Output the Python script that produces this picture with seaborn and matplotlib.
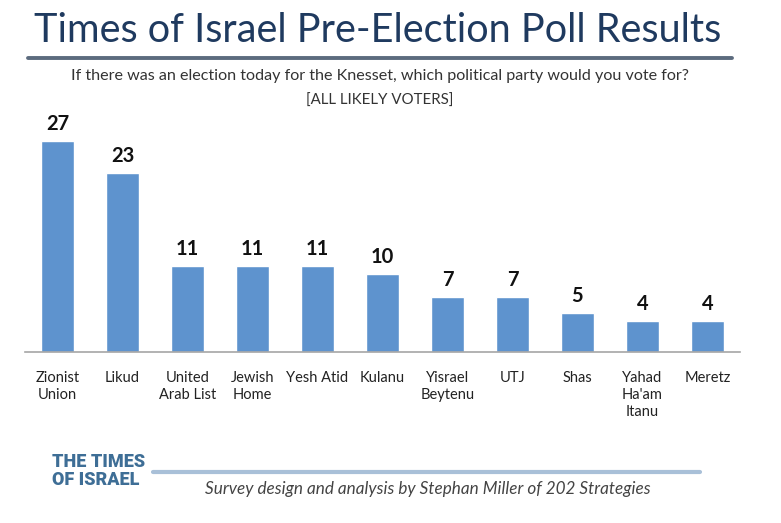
import matplotlib
matplotlib.use("Agg")
import matplotlib.pyplot as plt
import seaborn as sns
import pandas as pd
from matplotlib.lines import Line2D

parties = ["Zionist\nUnion", "Likud", "United\nArab List", "Jewish\nHome", "Yesh Atid",
           "Kulanu", "Yisrael\nBeytenu", "UTJ", "Shas", "Yahad\nHa'am\nItanu", "Meretz"]
seats = [27, 23, 11, 11, 11, 10, 7, 7, 5, 4, 4]

title = "Times of Israel Pre-Election Poll Results"
subtitle = "If there was an election today for the Knesset, which political party would you vote for?"
subtitle2 = "[ALL LIKELY VOTERS]"
footer = "Survey design and analysis by Stephan Miller of 202 Strategies"
logo = "THE TIMES\nOF ISRAEL"

sns.set_style("white")
plt.rcParams['font.family'] = ['Lato', 'DejaVu Sans']

df = pd.DataFrame({"party": parties, "seats": seats})

W, H = 781, 523
fig = plt.figure(figsize=(W / 100, H / 100), dpi=100)
ax = fig.add_axes([25 / W, 1 - 352 / H, 715 / W, 234 / H])

sns.barplot(data=df, x="party", y="seats", color="#5E93CE", saturation=1,
            width=0.5, ax=ax)
ax.set_ylim(0, 30)
ax.set_xlim(-0.5, len(parties) - 0.5)
ax.set_xlabel("")
ax.set_ylabel("")
ax.set_yticks([])
for s in ["left", "right", "top"]:
    ax.spines[s].set_visible(False)
ax.spines["bottom"].set_color("#A6A6A6")
ax.spines["bottom"].set_linewidth(1.2)

ax.tick_params(axis="x", which="major", length=0, pad=14, labelsize=10.5, labelcolor="#222222")
ax.set_xticks([i + 0.5 for i in range(len(parties) - 1)], minor=True)
ax.tick_params(axis="x", which="minor", length=5, color="#A6A6A6", width=1)
for lbl in ax.get_xticklabels():
    lbl.set_verticalalignment("top")
    lbl.set_linespacing(1.25)

for cont in ax.containers:
    ax.bar_label(cont, labels=[str(v) for v in seats], padding=5,
                 fontsize=14.5, fontweight="bold", color="#111111")

fig.text(378 / W, 1 - 30 / H, title, ha="center", va="center",
         fontsize=28.5, color="#1F3A5F")
fig.add_artist(Line2D([28 / W, 732 / W], [1 - 58 / H] * 2, color="#5C6B7E", lw=2.8,
                      transform=fig.transFigure))
fig.text(380 / W, 1 - 76 / H, subtitle, ha="center", va="center",
         fontsize=11.6, color="#333333")
fig.text(380 / W, 1 - 101 / H, subtitle2, ha="center", va="center",
         fontsize=10.8, color="#333333")

fig.text(52 / W, 1 - 471 / H, logo, ha="left", va="center", fontsize=13,
         fontweight="black", color="#3E6E96", linespacing=1.0,
         family=["Roboto", "DejaVu Sans"])
fig.add_artist(Line2D([153 / W, 700 / W], [1 - 472 / H] * 2, color="#A9C0D8", lw=3,
                      transform=fig.transFigure))
fig.text(428 / W, 1 - 489 / H, footer, ha="center", va="center", fontsize=12.3,
         style="italic", color="#444444")

fig.savefig("out.png", dpi=100)
